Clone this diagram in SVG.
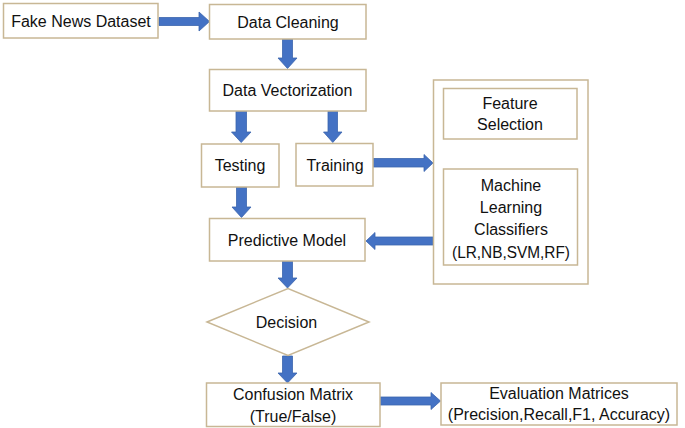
<svg xmlns="http://www.w3.org/2000/svg" width="685" height="428" viewBox="0 0 685 428">
<style>
.box{fill:#fff;stroke:#c8b795;stroke-width:1.5}
.arr{fill:#4472c4;stroke:#3b64ad;stroke-width:0.8}
text{font-family:"Liberation Sans",Arial,sans-serif;font-size:16px;fill:#111;text-anchor:middle;dominant-baseline:central}
</style>
<rect width="685" height="428" fill="#fff"/>
<g id="connectors">
<polygon class="arr" points="159,17.5 199,17.5 199,12 209.5,21.5 199,31 199,25.5 159,25.5"/>
<polygon class="arr" points="282.5,39 292.5,39 292.5,58 297,58 287.5,68.5 278,58 282.5,58"/>
<polygon class="arr" points="236,111 246.5,111 246.5,132 251,132 241.2,142.5 231.5,132 236,132"/>
<polygon class="arr" points="328,111 337.5,111 337.5,132 342,132 332.8,142.5 323.5,132 328,132"/>
<polygon class="arr" points="236.5,187 246.5,187 246.5,207 251,207 241.5,217.5 232,207 236.5,207"/>
<polygon class="arr" points="373,158.5 424,158.5 424,154.5 433,163 424,171.5 424,167 373,167"/>
<polygon class="arr" points="506,139 516,139 516,158 520.5,158 511,168.5 501.5,158 506,158"/>
<polygon class="arr" points="433,237 375,237 375,232.5 366,241 375,249.5 375,245 433,245"/>
<polygon class="arr" points="282.5,261 292.5,261 292.5,278 297,278 287.5,288 278,278 282.5,278"/>
<polygon class="arr" points="282.5,356 292.5,356 292.5,373 297,373 287.5,383 278,373 282.5,373"/>
<polygon class="arr" points="380,397 431,397 431,392.5 440.5,401 431,409.5 431,405 380,405"/>
</g>
<g id="fake-news-dataset"><rect class="box" x="3.5" y="3.5" width="154.5" height="34.5"/><text x="81" y="21">Fake News Dataset</text></g>
<g id="data-cleaning"><rect class="box" x="209.5" y="4.5" width="156.5" height="34.5"/><text x="288" y="22">Data Cleaning</text></g>
<g id="data-vectorization"><rect class="box" x="209.5" y="69.5" width="156.5" height="41.5"/><text x="287.5" y="90.5">Data Vectorization</text></g>
<g id="testing"><rect class="box" x="201.5" y="144" width="77.5" height="43"/><text x="240" y="165.5">Testing</text></g>
<g id="training"><rect class="box" x="296" y="143.5" width="77" height="42.5"/><text x="335" y="165">Training</text></g>
<g id="classifier-group"><rect class="box" x="433.5" y="80" width="154.5" height="204"/></g>
<g id="feature-selection"><rect class="box" x="443.5" y="88.5" width="133.5" height="50.5"/><text x="510" y="103">Feature</text><text x="510" y="124.5">Selection</text></g>
<g id="ml-classifiers"><rect class="box" x="443.5" y="169" width="134" height="96"/><text x="511" y="185">Machine</text><text x="511" y="207">Learning</text><text x="511" y="229">Classifiers</text><text x="511" y="252" textLength="118" lengthAdjust="spacingAndGlyphs">(LR,NB,SVM,RF)</text></g>
<g id="predictive-model"><rect class="box" x="209.5" y="218.5" width="155.5" height="42.5"/><text x="287" y="240">Predictive Model</text></g>
<g id="decision"><polygon class="box" points="207,322 288,288.5 369,322 288,355.5"/><text x="286.5" y="322.5">Decision</text></g>
<g id="confusion-matrix"><rect class="box" x="206.5" y="383" width="173.5" height="43.5"/><text x="293" y="394.5">Confusion Matrix</text><text x="293" y="416.5">(True/False)</text></g>
<g id="evaluation-matrices"><rect class="box" x="441" y="383" width="236" height="42"/><text x="559" y="393.5">Evaluation Matrices</text><text x="559" y="414.5">(Precision,Recall,F1, Accuracy)</text></g>
</svg>
